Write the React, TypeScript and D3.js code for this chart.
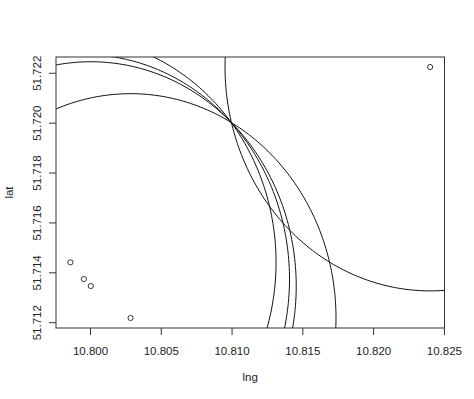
import React from "react";
import * as d3 from "d3";

const lng = [10.79858, 10.79953, 10.80002, 10.80283, 10.82399];
const lat = [51.71442, 51.71375, 51.71347, 51.71219, 51.72225];
const radiusM = [1002, 1002, 1001, 1001, 999];
const xTicks = [10.8, 10.805, 10.81, 10.815, 10.82, 10.825];
const yTicks = [51.712, 51.714, 51.716, 51.718, 51.72, 51.722];

const W = 474;
const H = 399;
const L = 56, R = 444.5, T = 57, B = 328;
const EARTH = 6378137;
const FONT = "'Liberation Sans', Arial, sans-serif";

function padded(v: number[]): [number, number] {
  const [a, b] = d3.extent(v) as [number, number];
  const d = (b - a) * 0.04;
  return [a - d, b + d];
}

export default function App() {
  const x = d3.scaleLinear().domain(padded(lng)).range([L, R]);
  const y = d3.scaleLinear().domain(padded(lat)).range([B, T]);
  const line = d3.line<[number, number]>().x((d) => x(d[0])).y((d) => y(d[1]));

  const circles = lng.map((lo, i) => {
    const la = lat[i];
    const rDeg = (radiusM[i] / EARTH) * (180 / Math.PI);
    const pts: [number, number][] = d3.range(0, 361, 1).map((b) => {
      const t = (b * Math.PI) / 180;
      return [lo + (rDeg * Math.sin(t)) / Math.cos((la * Math.PI) / 180), la + rDeg * Math.cos(t)];
    });
    return line(pts) as string;
  });

  return (
    <svg width={W} height={H} style={{ position: "absolute", left: 0, top: 0, background: "#fff" }}>
      <defs>
        <clipPath id="plotclip">
          <rect x={L} y={T} width={R - L} height={B - T} />
        </clipPath>
      </defs>
      <rect width={W} height={H} fill="#fff" />
      <g clipPath="url(#plotclip)">
        {circles.map((d, i) => (
          <path key={i} d={d} fill="none" stroke="#111" strokeWidth={1} />
        ))}
      </g>
      {lng.map((lo, i) => (
        <circle key={i} cx={x(lo)} cy={y(lat[i])} r={2.6} fill="none" stroke="#222" strokeWidth={0.9} />
      ))}
      <rect x={L} y={T} width={R - L} height={B - T} fill="none" stroke="#333" strokeWidth={1} />
      {xTicks.map((t) => (
        <g key={t}>
          <line x1={x(t)} x2={x(t)} y1={B} y2={B + 7} stroke="#333" />
          <text x={x(t)} y={355} textAnchor="middle" fontFamily={FONT} fontSize={11.5} fill="#222">
            {d3.format(".3f")(t)}
          </text>
        </g>
      ))}
      {yTicks.map((t) => (
        <g key={t}>
          <line x1={L - 7} x2={L} y1={y(t)} y2={y(t)} stroke="#333" />
          <text
            transform={`translate(41,${y(t)}) rotate(-90)`}
            textAnchor="middle"
            fontFamily={FONT}
            fontSize={11.5}
            fill="#222"
          >
            {d3.format(".3f")(t)}
          </text>
        </g>
      ))}
      <text x={(L + R) / 2} y={381} textAnchor="middle" fontFamily={FONT} fontSize={11.5} fill="#222">
        lng
      </text>
      <text
        transform={`translate(13,${(T + B) / 2}) rotate(-90)`}
        textAnchor="middle"
        fontFamily={FONT}
        fontSize={11.5}
        fill="#222"
      >
        lat
      </text>
    </svg>
  );
}
